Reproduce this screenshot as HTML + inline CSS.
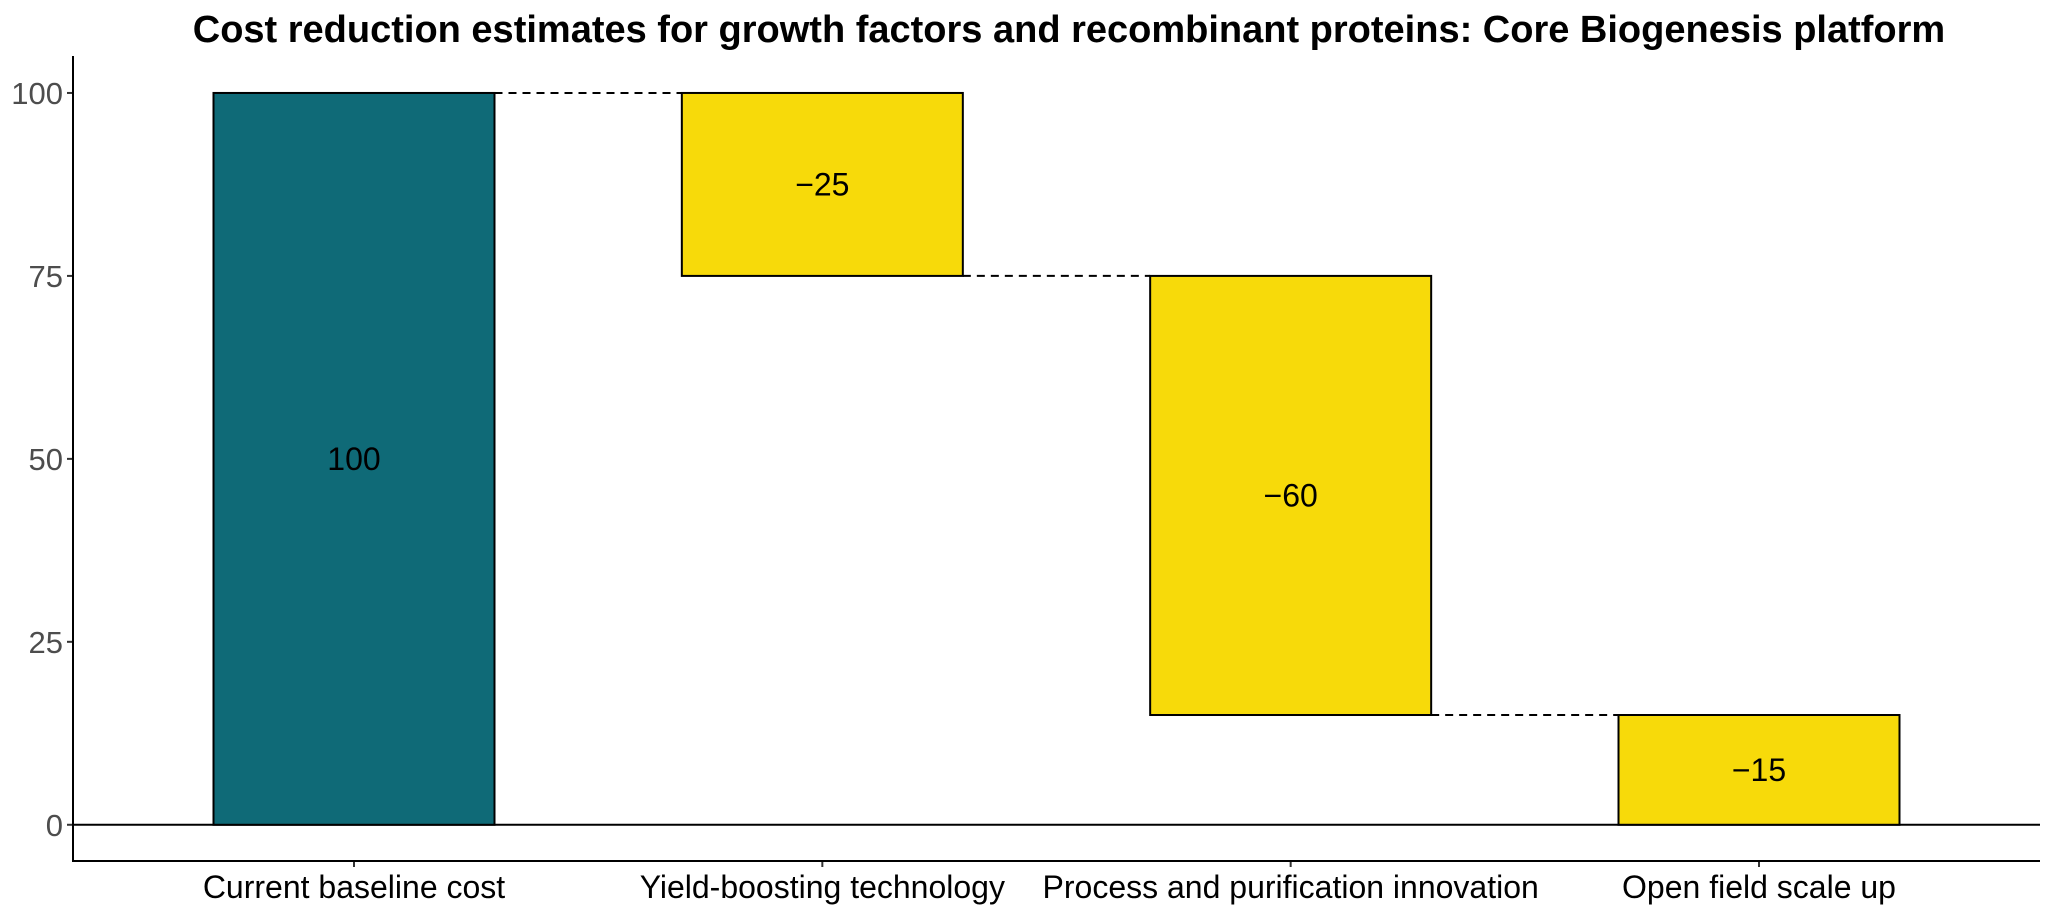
<!DOCTYPE html>
<html><head><meta charset="utf-8"><style>
body{margin:0;background:#fff;}
svg{display:block;font-family:"Liberation Sans",Arial,sans-serif;}
</style></head><body>
<svg id="chart" width="2048" height="910">
<text x="1069" y="42" text-anchor="middle" font-size="38" font-weight="bold" fill="#000">Cost reduction estimates for growth factors and recombinant proteins: Core Biogenesis platform</text>
<g id="plot"></g>
</svg>
<script>
const categories=["Current baseline cost","Yield-boosting technology","Process and purification innovation","Open field scale up"];
const deltas=[100,-25,-60,-15];
const labels=["100","\u221225","\u221260","\u221215"];
const yTicks=[0,25,50,75,100];
const L=73,R=2040,T=56,B=861;
const yMin=-4.95,yMax=105.05;
const band=(R-L)/(categories.length+0.2);
const xs=i=>L+band*(0.6+i);
const ys=v=>B-(v-yMin)/(yMax-yMin)*(B-T);
const bw=band*0.6;
const ns="http://www.w3.org/2000/svg";
const g=document.getElementById('plot');
function mk(t,a){const e=document.createElementNS(ns,t);for(const k in a)e.setAttribute(k,a[k]);g.appendChild(e);return e;}
let z=mk('line',{x1:L,x2:R,y1:ys(0),y2:ys(0),stroke:'#000','stroke-width':2});


let run=0;
deltas.forEach((d,i)=>{
  const start=run,end=(i===0)?d:run+d;
  const top=Math.max(start,end),bot=Math.min(start,end);
  const r=mk('rect',{x:xs(i)-bw/2,y:ys(top),width:bw,height:ys(bot)-ys(top),fill:i===0?'#0F6A77':'#F7DA0A',stroke:'#000','stroke-width':2});
  
  
  const t=mk('text',{x:xs(i),y:ys((top+bot)/2)+11,'text-anchor':'middle','font-size':32,fill:'#000'});
  t.textContent=labels[i];
  
  
  if(i<deltas.length-1){
    const c=mk('line',{x1:xs(i)+bw/2,x2:xs(i+1)-bw/2,y1:ys(end),y2:ys(end),stroke:'#000','stroke-width':2,'stroke-dasharray':'8,6'});
    
    
  }
  run=end;
  const tk=mk('line',{x1:xs(i),x2:xs(i),y1:B,y2:B+6,stroke:'#333','stroke-width':2});
  
  
  const xl=mk('text',{x:xs(i),y:B+37,'text-anchor':'middle','font-size':32,fill:'#000'});
  xl.textContent=categories[i];
  
  
});
yTicks.forEach(v=>{
  const tk=mk('line',{x1:L-6,x2:L,y1:ys(v),y2:ys(v),stroke:'#333','stroke-width':2});
  
  
  const yl=mk('text',{x:L-10,y:ys(v)+11,'text-anchor':'end','font-size':31,fill:'#4d4d4d'});
  yl.textContent=v;
  
  
});
const ya=mk('line',{x1:L,x2:L,y1:T,y2:B+1,stroke:'#000','stroke-width':2});


const xa=mk('line',{x1:L-1,x2:R,y1:B,y2:B,stroke:'#000','stroke-width':2});


</script>
</body></html>
